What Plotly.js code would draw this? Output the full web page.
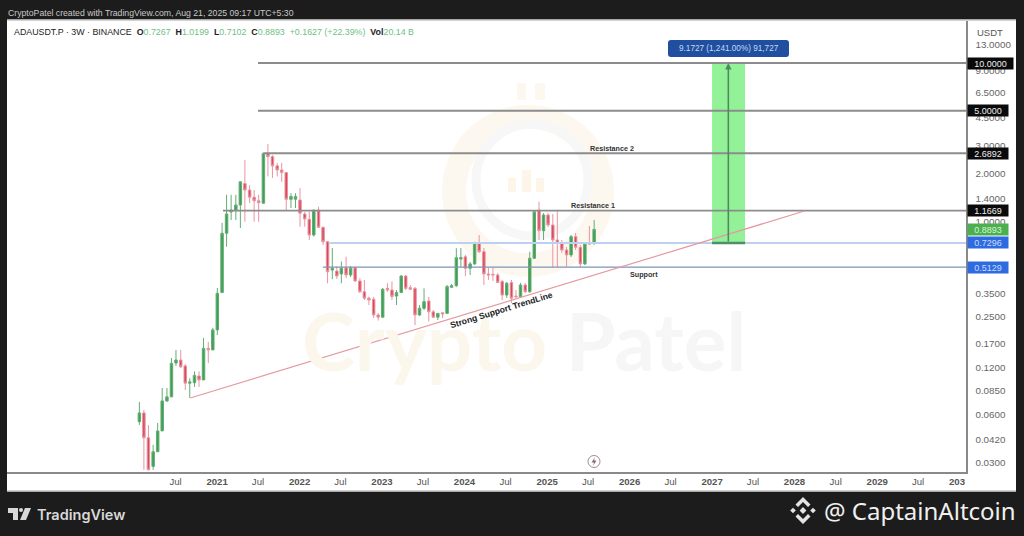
<!DOCTYPE html>
<html>
<head>
<meta charset="utf-8">
<script src="https://cdn.plot.ly/plotly-3.0.1.min.js"></script>
<style>html,body{margin:0;padding:0;background:#1c1c1c;overflow:hidden}#chart{width:1024px;height:536px}
#chart .boxlayer,#chart .scatterlayer{filter:blur(0.45px)}</style>
</head>
<body>
<div id="chart"></div>
<script>
const dates = ['2020-01-23','2020-02-12','2020-03-03','2020-03-24','2020-04-13','2020-05-03','2020-05-24','2020-06-13','2020-07-03','2020-07-24','2020-08-13','2020-09-02','2020-09-23','2020-10-13','2020-11-02','2020-11-23','2020-12-13',
'2021-01-02','2021-01-23','2021-02-12','2021-03-04','2021-03-25','2021-04-14','2021-05-04','2021-05-25','2021-06-14','2021-07-04','2021-07-25','2021-08-14','2021-09-03','2021-09-24','2021-10-14','2021-11-03','2021-11-24','2021-12-14',
'2022-01-03','2022-01-24','2022-02-13','2022-03-05','2022-03-26','2022-04-15','2022-05-05','2022-05-26','2022-06-15','2022-07-05','2022-07-26','2022-08-15','2022-09-04','2022-09-25','2022-10-15','2022-11-04','2022-11-25','2022-12-15',
'2023-01-04','2023-01-25','2023-02-14','2023-03-06','2023-03-27','2023-04-16','2023-05-06','2023-05-27','2023-06-16','2023-07-06','2023-07-27','2023-08-16','2023-09-05','2023-09-26','2023-10-16','2023-11-05','2023-11-26','2023-12-16',
'2024-01-05','2024-01-26','2024-02-15','2024-03-06','2024-03-27','2024-04-16','2024-05-06','2024-05-27','2024-06-16','2024-07-06','2024-07-27','2024-08-16','2024-09-05','2024-09-26','2024-10-16','2024-11-05','2024-11-26','2024-12-16',
'2025-01-05','2025-01-26','2025-02-15','2025-03-07','2025-03-28','2025-04-17','2025-05-07','2025-05-28','2025-06-17','2025-07-07','2025-07-28'];
const opens = [.0542,.0616,.0429,.0283,.0350,.0474,.0733,.0778,.1273,.133,.122,.0949,.0955,.1054,.0995,.1575,.154,.206,.3545,.840,1.145,1.178,1.267,1.735,1.576,1.42,1.349,1.30,2.685,2.56,2.24,2.109,2.03,1.377,1.377,1.363,1.112,1.03,.819,1.178,.916,.743,.492,.485,.465,.509,.458,.509,.420,.359,.327,.322,.256,.248,.377,.368,.337,.3545,.451,.381,.377,.256,.282,.314,.268,.248,.264,.262,.383,.392,.578,.597,.505,.538,.733,.643,.465,.463,.458,.417,.342,.410,.337,.334,.396,.359,.584,1.178,.872,1.096,.948,.762,.726,.659,.613,.80,.685,.538,.733,.7267];
const highs = [.0723,.0643,.0517,.0387,.0532,.0885,.0885,.1368,.154,.154,.1255,.102,.1127,.1127,.1834,.173,.2125,.379,.976,1.47,1.47,1.47,1.79,2.439,1.69,1.576,1.47,2.70,3.077,2.62,2.34,2.34,2.05,1.505,1.505,1.62,1.145,1.151,1.178,1.236,.925,.751,.678,.517,.557,.598,.522,.517,.437,.426,.334,.333,.263,.379,.406,.417,.368,.458,.458,.396,.385,.296,.377,.333,.275,.263,.267,.396,.402,.676,.678,.613,.553,.743,.819,.678,.507,.507,.471,.426,.414,.426,.368,.408,.408,.643,1.178,1.33,1.128,1.128,1.112,1.178,.762,.688,.819,.844,.708,.740,.934,1.0199];
const lows = [.0517,.0269,.0269,.0269,.0349,.0474,.0723,.0775,.122,.1184,.086,.0766,.0899,.0899,.0995,.1273,.154,.1915,.353,.691,1.019,1.019,.907,.994,1.305,.994,.994,1.30,1.92,1.88,1.92,1.775,1.178,1.213,1.213,.924,.924,.762,.80,.907,.708,.406,.431,.432,.406,.438,.445,.414,.353,.318,.296,.245,.236,.245,.358,.318,.296,.353,.368,.368,.221,.252,.275,.233,.245,.238,.245,.260,.379,.385,.515,.451,.458,.530,.631,.396,.426,.420,.408,.318,.328,.305,.328,.333,.353,.353,.578,.762,.762,.920,.513,.515,.631,.517,.595,.659,.515,.530,.708,.7102];
const closes = [.0616,.0429,.0269,.0350,.0474,.0733,.0778,.1267,.133,.1205,.0949,.0967,.1063,.0995,.1575,.154,.206,.351,.840,1.112,1.178,1.267,1.775,1.576,1.42,1.349,1.31,2.685,2.56,2.24,2.109,2.03,1.377,1.435,1.435,1.125,1.034,.819,1.178,.916,.743,.480,.506,.451,.506,.458,.506,.420,.359,.327,.318,.256,.248,.372,.368,.335,.3545,.451,.377,.372,.256,.282,.311,.268,.248,.262,.260,.387,.392,.589,.589,.505,.538,.726,.643,.465,.458,.458,.410,.342,.406,.327,.334,.396,.359,.584,1.15,.872,1.096,.948,.762,.726,.659,.613,.80,.685,.538,.726,.719,.8893];

const levels = [10, 5, 2.6892, 1.1669, 0.7296, 0.5129];
const levelStarts = ['2021-07-01','2021-07-01','2021-07-24','2021-01-27','2022-05-14','2022-04-14'];
const levelEnd = '2030-01-29';
const levelColors = ['#8c8c8c','#8c8c8c','#8c8c8c','#8c8c8c','#bcd0f0','#7f93b5'];
const levelWidths = [2,2,2,1.8,2,1.2];
const levelLabels = ['10.0000','5.0000','2.6892','1.1669','0.7296','0.5129'];
const levelBoxes = ['#0a0a0a','#0a0a0a','#0a0a0a','#0a0a0a','#2f6be0','#2f6be0'];
const lastClose = 0.8893;
const trendDates = ['2020-09-04','2028-02-14'];
const trendValues = [0.0765, 1.161];
const targetStart = '2027-01-01';
const targetEnd = '2027-05-27';
const targetMid = '2027-03-14';

const tickDates = ['2020-07-01','2021-01-01','2021-07-01','2022-01-01','2022-07-01','2023-01-01','2023-07-01','2024-01-01','2024-07-01','2025-01-01','2025-07-01','2026-01-01','2026-07-01','2027-01-01','2027-07-01','2028-01-01','2028-07-01','2029-01-01','2029-07-01','2029-12-20'];
const tickLabels = ['Jul','<b>2021</b>','Jul','<b>2022</b>','Jul','<b>2023</b>','Jul','<b>2024</b>','Jul','<b>2025</b>','Jul','<b>2026</b>','Jul','<b>2027</b>','Jul','<b>2028</b>','Jul','<b>2029</b>','Jul','<b>203</b>'];
const priceTicks = [13,9,6.5,4.5,3,2,1.4,1,0.35,0.25,0.17,0.12,0.085,0.06,0.042,0.03];
const priceLabels = ['13.0000','9.0000','6.5000','4.5000','3.0000','2.0000','1.4000','1.0000','0.3500','0.2500','0.1700','0.1200','0.0850','0.0600','0.0420','0.0300'];

const L = 7, R = 966, T = 21, B = 472;
const px = x => (x - L) / (R - L);
const py = y => (B - y) / (B - T);
const FONT = '"Liberation Sans", Arial, sans-serif';

function rect(x0, y0, x1, y1, color, layer) {
  return {type:'rect', xref:'paper', yref:'paper', x0:px(x0), x1:px(x1), y0:py(y0), y1:py(y1), fillcolor:color, line:{width:0}, layer:layer||'below'};
}
function ring(cx, cy, r, color, w) {
  return {type:'circle', xref:'paper', yref:'paper', x0:px(cx-r), x1:px(cx+r), y0:py(cy-r), y1:py(cy+r), fillcolor:'rgba(0,0,0,0)', line:{color:color, width:w}, layer:'below'};
}
function poly(points, color, layer) {
  const d = points.map((p,i) => (i? 'L':'M') + px(p[0]) + ',' + py(p[1])).join(' ') + ' Z';
  return {type:'path', xref:'paper', yref:'paper', path:d, fillcolor:color, line:{width:0}, layer:layer||'above'};
}
function diamond(cx, cy, r, color) {
  return poly([[cx,cy-r],[cx+r,cy],[cx,cy+r],[cx-r,cy]], color);
}

const shapes = [
  rect(7, 20, 1016, 491, '#ffffff'),
  rect(7, 19, 1016, 20.5, '#a8a8a8'),
  rect(7, 490.5, 1016, 492, '#a8a8a8'),
  // watermark badge
  ring(528, 191, 74, '#fdf8ef', 24),
  ring(532, 180, 56, '#f7f7f7', 9),
  rect(517, 83, 526, 100, '#fdf8ef'),
  rect(535, 83, 545, 100, '#fdf8ef'),
  rect(508, 178, 516, 192, '#fcf5e8'),
  rect(522, 170, 531, 192, '#fcf5e8'),
  rect(536, 178, 544, 192, '#fcf5e8'),
  // target zone
  {type:'rect', xref:'x', yref:'y', x0:targetStart, x1:targetEnd, y0:levels[4], y1:levels[0], fillcolor:'#93f297', line:{width:0}, layer:'below'},
  // rounded measure label
  (function(){
    const x0=668,x1=789,y0=40,y1=57,r=3;
    const d = ['M',px(x0+r),py(y0),'L',px(x1-r),py(y0),'Q',px(x1),py(y0),px(x1),py(y0+r),'L',px(x1),py(y1-r),'Q',px(x1),py(y1),px(x1-r),py(y1),'L',px(x0+r),py(y1),'Q',px(x0),py(y1),px(x0),py(y1-r),'L',px(x0),py(y0+r),'Q',px(x0),py(y0),px(x0+r),py(y0),'Z'].join(' ');
    return {type:'path', xref:'paper', yref:'paper', path:d, fillcolor:'#1f4f9e', line:{width:0}, layer:'above'};
  })(),
  // small event icon
  ring(594, 461.5, 6, '#a08a90', 1),
  poly([[595,457],[591.5,462.5],[594,462.5],[593,466],[596.5,460.5],[594,460.5]], '#8a6a70'),
  // Binance-style mark
  diamond(803, 510.5, 3.4, '#e4e4e4'),
  diamond(793, 510.5, 2.8, '#e4e4e4'),
  diamond(813, 510.5, 2.8, '#e4e4e4'),
  poly([[803,497],[810.5,504.5],[808,507],[803,502],[798,507],[795.5,504.5]], '#e4e4e4'),
  poly([[803,524],[795.5,516.5],[798,514],[803,519],[808,514],[810.5,516.5]], '#e4e4e4'),
  // TradingView mark
  poly([[8,508],[18,508],[18,520],[13,520],[13,513],[8,513]], '#d8d8d8'),
  {type:'circle', xref:'paper', yref:'paper', x0:px(19), x1:px(23), y0:py(508), y1:py(512), fillcolor:'#d8d8d8', line:{width:0}, layer:'above'},
  poly([[25,508],[31,508],[26,520],[20,520]], '#d8d8d8')
];

const annText = (text, x, y, opts) => Object.assign({text:text, xref:'paper', yref:'paper', x:px(x), y:py(y), showarrow:false, xanchor:'left', yanchor:'middle', borderpad:0, font:{family:FONT, size:9, color:'#222'}}, opts||{});
const G = '#6fbf7f';
const legendLine = 'ADAUSDT.P · 3W · BINANCE  <b>O</b><span style="color:'+G+'">0.7267</span>  <b>H</b><span style="color:'+G+'">1.0199</span>  <b>L</b><span style="color:'+G+'">0.7102</span>  <b>C</b><span style="color:'+G+'">0.8893</span>  <span style="color:'+G+'">+0.1627 (+22.39%)</span>  <b>Vol</b><span style="color:'+G+'">20.14 B</span>';

const annotations = [
  annText('<b>Crypto</b>', 301, 340, {font:{family:'Lato, sans-serif', size:80, color:'#fcf7ec'}}),
  annText('<b>Patel</b>', 565, 340, {font:{family:'Lato, sans-serif', size:80, color:'#f6f6f6'}}),
  annText('CryptoPatel created with TradingView.com, Aug 21, 2025 09:17 UTC+5:30', 7, 12.5, {font:{family:FONT, size:8.7, color:'#c8c8c8'}}),
  annText(legendLine, 13, 32, {font:{family:FONT, size:8.85, color:'#222'}}),
  annText('USDT', 976, 32, {font:{family:FONT, size:9.5, color:'#555'}}),
  annText('<b>Resistance 2</b>', 589, 148, {font:{family:FONT, size:7.2, color:'#333'}}),
  annText('<b>Resistance 1</b>', 570, 205, {font:{family:FONT, size:7.2, color:'#333'}}),
  annText('<b>Support</b>', 629, 274, {font:{family:FONT, size:7.2, color:'#333'}}),
  annText('<b>Strong Support TrendLine</b>', 501, 310, {xanchor:'center', textangle:-17, font:{family:FONT, size:8.6, color:'#222'}}),
  annText('9.1727 (1,241.00%) 91,727', 728.5, 48.5, {xanchor:'center', font:{family:FONT, size:8.2, color:'#c6d8f6'}}),
  {xref:'x', yref:'y', axref:'x', ayref:'y', x:targetMid, y:Math.log10(levels[0]), ax:targetMid, ay:Math.log10(levels[4]), text:'', showarrow:true, arrowhead:2, arrowsize:0.8, arrowwidth:1.6, arrowcolor:'#4f8a5f'},
  annText('TradingView', 36, 514, {font:{family:'Inter, "Liberation Sans", sans-serif', size:14.5, color:'#d8d8d8', weight:600}}),
  annText('@ CaptainAltcoin', 1017, 510, {xanchor:'right', font:{family:'"Noto Sans", sans-serif', size:24, color:'#f0f0f0'}})
];
levels.forEach((v,i) => {
  annotations.push({text:levelLabels[i], xref:'paper', yref:'y', x:px(967), y:Math.log10(v), xanchor:'left', yanchor:'middle', showarrow:false, width: i===0 ? 45 : 40, height:11, borderpad:0, bgcolor:levelBoxes[i], align:'center', font:{family:FONT, size:9, color: i>3 ? '#c9dcff' : '#ededed'}});
});
annotations.push({text:'0.8893', xref:'paper', yref:'y', x:px(967), y:Math.log10(lastClose), xanchor:'left', yanchor:'middle', showarrow:false, width:40, height:11, borderpad:0, bgcolor:'#4caf50', align:'center', font:{family:FONT, size:9, color:'#d6f5d8'}});

const traces = [
  {type:'candlestick', x:dates, open:opens, high:highs, low:lows, close:closes, whiskerwidth:0, hoverinfo:'skip',
   increasing:{line:{color:'#62ad74', width:1}, fillcolor:'#3f9f55'},
   decreasing:{line:{color:'#e8949f', width:1}, fillcolor:'#d9485c'}}
];
levels.forEach((v,i) => traces.push({type:'scatter', mode:'lines', x:[levelStarts[i], levelEnd], y:[v,v], hoverinfo:'skip', line:{color:levelColors[i], width:levelWidths[i]}}));
traces.push({type:'scatter', mode:'lines', x:trendDates, y:trendValues, hoverinfo:'skip', line:{color:'#e49aa0', width:1.2}});
traces.push({type:'scatter', mode:'lines', x:[targetStart,targetEnd], y:[levels[4],levels[4]], hoverinfo:'skip', line:{color:'#4d8f68', width:2.5}});

const layout = {
  width:1024, height:536, autosize:false,
  margin:{l:L, r:1024-R, t:T, b:536-B, pad:0},
  paper_bgcolor:'#1c1c1c', plot_bgcolor:'rgba(0,0,0,0)',
  showlegend:false, hovermode:false, boxgap:0.22,
  xaxis:{type:'date', range:['2018-06-16','2030-01-29'], tickmode:'array', tickvals:tickDates, ticktext:tickLabels, ticks:'', showgrid:false, zeroline:false, showline:true, linecolor:'#8a8a8a', linewidth:1.5, rangeslider:{visible:false}, tickfont:{family:FONT, size:9.6, color:'#555'}, tickangle:0, automargin:false},
  yaxis:{type:'log', side:'right', range:[-1.5837,1.2653], tickmode:'array', tickvals:priceTicks, ticktext:priceLabels, ticks:'outside', ticklen:6, tickcolor:'rgba(0,0,0,0)', showgrid:false, zeroline:false, showline:true, linecolor:'#8a8a8a', linewidth:1.5, tickfont:{family:FONT, size:9.8, color:'#666'}, automargin:false},
  shapes:shapes, annotations:annotations
};
Plotly.newPlot('chart', traces, layout, {displayModeBar:false, staticPlot:true});
</script>
</body>
</html>
